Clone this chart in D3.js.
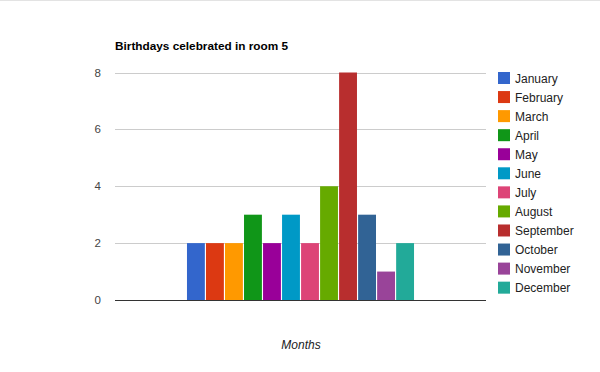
<!DOCTYPE html>
<html>
<head>
<meta charset="utf-8">
<script src="https://cdn.jsdelivr.net/npm/d3@7"></script>
<style>
  html, body { margin: 0; padding: 0; background: #fff; }
  svg { display: block; font-family: Arial, "Liberation Sans", sans-serif; }
</style>
</head>
<body>
<svg id="chart" width="600" height="372"></svg>
<script>
const months = ["January", "February", "March", "April", "May", "June",
  "July", "August", "September", "October", "November", "December"];
const birthdays = [2, 2, 2, 3, 2, 3, 2, 4, 8, 3, 1, 2];
const colors = ["#3366cc", "#dc3912", "#ff9900", "#109618", "#990099", "#0099c6",
  "#dd4477", "#66aa00", "#b82e2e", "#316395", "#994499", "#22aa99"];
const yTicks = [0, 2, 4, 6, 8];

const svg = d3.select("#chart");
const plotL = 115, plotR = 486, plotT = 72.5, plotB = 300;

// thin border line at the top of the page
svg.append("rect").attr("x", 0).attr("y", 0).attr("width", 600).attr("height", 1).attr("fill", "#e3e3e3");

const y = d3.scaleLinear().domain([0, 8]).range([plotB, plotT]);

// one category, 12 series side by side
const x0 = d3.scaleBand().domain([""]).range([plotL, plotR]).paddingInner(0).paddingOuter(0.317);
const x1 = d3.scaleBand().domain(months).range([0, x0.bandwidth()]).paddingInner(0.06).paddingOuter(0);

// gridlines
svg.append("g")
  .selectAll("line")
  .data(yTicks.filter(d => d !== 0))
  .join("line")
  .attr("x1", plotL).attr("x2", plotR)
  .attr("y1", d => Math.round(y(d)) + 0.5).attr("y2", d => Math.round(y(d)) + 0.5)
  .attr("stroke", "#cccccc");

// tick labels
svg.append("g")
  .selectAll("text")
  .data(yTicks)
  .join("text")
  .attr("x", 101)
  .attr("y", d => y(d) + 4)
  .attr("text-anchor", "end")
  .attr("font-size", 11.5)
  .attr("fill", "#444")
  .text(d => d);

// bars
svg.append("g")
  .selectAll("rect")
  .data(months)
  .join("rect")
  .attr("x", d => x0("") + x1(d))
  .attr("width", x1.bandwidth())
  .attr("y", (d, i) => y(birthdays[i]))
  .attr("height", (d, i) => y(0) - y(birthdays[i]))
  .attr("fill", (d, i) => colors[i]);

// baseline
svg.append("line")
  .attr("x1", plotL).attr("x2", plotR)
  .attr("y1", plotB + 0.5).attr("y2", plotB + 0.5)
  .attr("stroke", "#333");

// title
svg.append("text")
  .attr("x", 115).attr("y", 50)
  .attr("font-size", 11.8)
  .attr("font-weight", "bold")
  .attr("fill", "#000")
  .text("Birthdays celebrated in room 5");

// axis title
svg.append("text")
  .attr("x", 301).attr("y", 349)
  .attr("text-anchor", "middle")
  .attr("font-size", 12)
  .attr("font-style", "italic")
  .attr("fill", "#222")
  .text("Months");

// legend
const legend = svg.append("g")
  .selectAll("g")
  .data(months)
  .join("g")
  .attr("transform", (d, i) => `translate(498, ${72 + i * 19.06})`);

legend.append("rect")
  .attr("width", 12).attr("height", 12)
  .attr("fill", (d, i) => colors[i]);

legend.append("text")
  .attr("x", 17).attr("y", 10.5)
  .attr("font-size", 12)
  .attr("fill", "#222")
  .text(d => d);
</script>
</body>
</html>
